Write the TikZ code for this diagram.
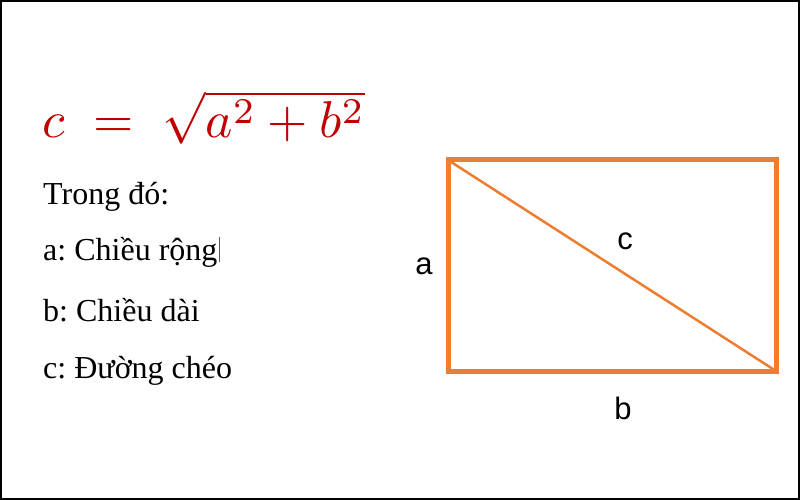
\documentclass[tikz,border=0pt]{standalone}
\usepackage{fontspec}
\setmainfont{Liberation Serif}
\newfontfamily\labelfont{Liberation Sans}
\frenchspacing
\definecolor{formulared}{HTML}{C00000}
\definecolor{rectorange}{HTML}{ED7D31}
\tikzset{
  textline/.style={anchor=base west, inner sep=0pt, font=\fontsize{32bp}{38bp}\selectfont},
  sidelabel/.style={anchor=base, inner sep=0pt, font=\labelfont\fontsize{31bp}{37bp}\selectfont},
  rectside/.style={draw=rectorange, line width=5bp},
  diagside/.style={draw=rectorange, line width=2.5bp}
}
\begin{document}
\begin{tikzpicture}[x=1bp, y=-1bp]
    \useasboundingbox (0,0) rectangle (800,500);
    \fill[white] (0,0) rectangle (800,500);
    \draw[line width=2bp] (1,1) rectangle (799,499);

    \node[anchor=base west, inner sep=0pt, text=formulared] (formula) at (42,138)
        {\scalebox{5.2}{$c \;=\; \sqrt{a^2 + b^2}$}};

    \node[textline] (legend) at (43,205) {Trong đó:};
    \node[textline] (width) at (43,261) {a: Chiều rộng};
    \node[textline] (length) at (43,321) {b: Chiều dài};
    \node[textline] (diagonal) at (43,378) {c: Đường chéo};
    \draw[gray!70!black, line width=1bp] (width.east) ++(1.5,-16) coordinate (cursortop) -- ++(0,25) coordinate (cursorbottom);

    \coordinate (tl) at (448,160);
    \coordinate (br) at (776,371);
    \draw[rectside] (tl) rectangle (br);
    \draw[diagside] (tl) -- (br);

    \node[sidelabel] (sidea) at (424,275) {a};
    \node[sidelabel] (sideb) at (623,419) {b};
    \node[sidelabel] (sidec) at (625,250) {c};
\end{tikzpicture}
\end{document}
